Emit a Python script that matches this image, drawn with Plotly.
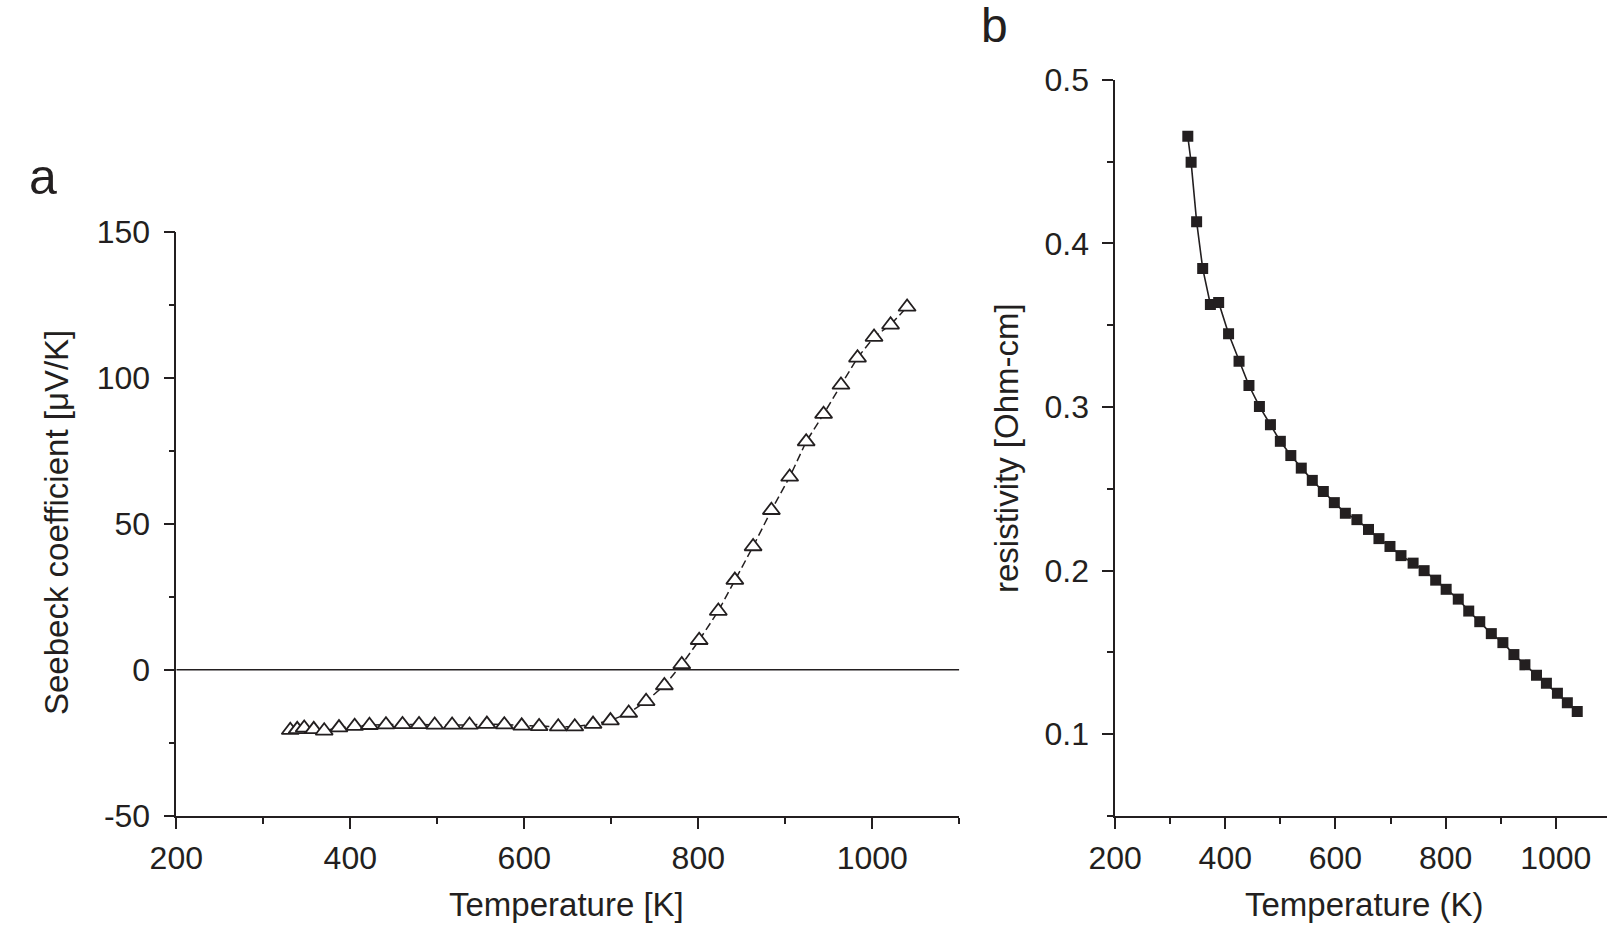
import plotly.graph_objects as go

# ---- Data ----
seebeck_T = [331, 339, 347, 358, 370, 387, 405, 422, 441, 460, 479, 497, 517, 537, 557,
             577, 597, 617, 639, 658, 679, 699, 720, 740, 761, 781, 801, 823, 842, 863,
             884, 905, 924, 944, 964, 983, 1002, 1021, 1040]
seebeck_S = [-20.7, -20.4, -19.9, -20.4, -20.9, -19.8, -19.3, -19.0, -18.8, -18.7, -18.7,
             -18.9, -18.9, -18.9, -18.6, -18.8, -19.2, -19.4, -19.5, -19.5, -18.6, -17.4,
             -14.8, -10.8, -5.4, 1.8, 10.1, 20.1, 30.7, 42.2, 54.6, 66.0, 78.1, 87.5,
             97.5, 106.8, 113.9, 118.1, 124.2]

res_T = [332, 338, 348, 359, 373, 388, 406, 425, 443, 462, 482, 500, 519, 538, 558, 578,
         598, 618, 639, 660, 679, 699, 719, 741, 761, 782, 801, 823, 842, 862, 883, 904,
         924, 944, 965, 983, 1003, 1021, 1039]
res_rho = [0.4655, 0.4496, 0.4133, 0.3847, 0.3627, 0.3639, 0.3448, 0.3279, 0.3131, 0.3003,
           0.2892, 0.2790, 0.2703, 0.2626, 0.2551, 0.2483, 0.2415, 0.2350, 0.2311, 0.2251,
           0.2195, 0.2147, 0.2091, 0.2045, 0.1999, 0.1941, 0.1885, 0.1825, 0.1752, 0.1687,
           0.1614, 0.1559, 0.1486, 0.1423, 0.1360, 0.1310, 0.1249, 0.1191, 0.1138]

x_ticks = [200, 400, 600, 800, 1000]
x_ticklabels = ["200", "400", "600", "800", "1000"]
s_ticks = [-50, 0, 50, 100, 150]
s_ticklabels = ["-50", "0", "50", "100", "150"]
r_ticks = [0.1, 0.2, 0.3, 0.4, 0.5]
r_ticklabels = ["0.1", "0.2", "0.3", "0.4", "0.5"]

INK = "#231f20"
FONT = "Liberation Sans, Arial, Helvetica, sans-serif"

W, H = 1607, 931

fig = go.Figure()

fig.add_trace(go.Scatter(
    x=seebeck_T, y=seebeck_S, mode="lines+markers",
    line=dict(color=INK, width=1.5, dash="8px,4px"),
    marker=dict(symbol="triangle-up", size=15, color="white",
                line=dict(color=INK, width=1.8)),
    xaxis="x", yaxis="y", showlegend=False))

fig.add_trace(go.Scatter(
    x=res_T, y=res_rho, mode="lines+markers",
    line=dict(color=INK, width=1.6),
    marker=dict(symbol="square", size=11, color=INK, line=dict(width=0)),
    xaxis="x2", yaxis="y2", showlegend=False))

axis_common = dict(showline=True, linecolor=INK, linewidth=1.5, showgrid=False,
                   zeroline=False, ticks="outside", ticklen=11, tickwidth=1.5,
                   tickcolor=INK, mirror=False, automargin=False)

def px_x(p):
    return p / W

def px_y(p):
    return (H - p) / H

minor_style = dict(ticks="outside", ticklen=6, tickwidth=1.5, tickcolor=INK)

fig.update_layout(
    width=W, height=H,
    margin=dict(l=0, r=0, t=0, b=0, autoexpand=False),
    paper_bgcolor="white", plot_bgcolor="white",
    xaxis=dict(**axis_common, domain=[px_x(176.3), px_x(959.3)], range=[200, 1100],
               tickvals=x_ticks, ticktext=x_ticklabels, anchor="y",
               tickfont=dict(family=FONT, size=32, color=INK), ticklabelstandoff=2,
               minor=dict(dtick=100, tick0=0, **minor_style)),
    yaxis=dict(**axis_common, domain=[px_y(815.8), px_y(231.6)], range=[-50, 150],
               tickvals=s_ticks, ticktext=s_ticklabels, anchor="x",
               tickfont=dict(family=FONT, size=32, color=INK), ticklabelstandoff=7,
               minor=dict(dtick=25, tick0=0, **minor_style)),
    xaxis2=dict(**axis_common, domain=[px_x(1115.1), 1.0], range=[200, 1093],
                tickvals=x_ticks, ticktext=x_ticklabels, anchor="y2",
                tickfont=dict(family=FONT, size=32, color=INK), ticklabelstandoff=2,
                minor=dict(dtick=100, tick0=0, **minor_style)),
    yaxis2=dict(**axis_common, domain=[px_y(815.8), px_y(79.9)], range=[0.05, 0.5],
                tickvals=r_ticks, ticktext=r_ticklabels, anchor="x2",
                tickfont=dict(family=FONT, size=32, color=INK), ticklabelstandoff=7,
                minor=dict(dtick=0.05, tick0=0, **minor_style)),
)

# zero line across panel a
fig.add_trace(go.Scatter(x=[200, 1100], y=[0, 0], mode="lines",
                         line=dict(color=INK, width=1.5), xaxis="x", yaxis="y",
                         showlegend=False, hoverinfo="skip"))

annotations = [
    dict(text="Seebeck coefficient [\u03bcV/K]", x=px_x(56), y=px_y(523), textangle=-90,
         font=dict(family=FONT, size=33, color=INK)),
    dict(text="Temperature [K]", x=px_x(566), y=px_y(904),
         font=dict(family=FONT, size=33, color=INK)),
    dict(text="resistivity [Ohm-cm]", x=px_x(1006), y=px_y(448), textangle=-90,
         font=dict(family=FONT, size=33, color=INK)),
    dict(text="Temperature (K)", x=px_x(1364), y=px_y(904),
         font=dict(family=FONT, size=33, color=INK)),
    dict(text="a", x=px_x(43), y=px_y(177), font=dict(family=FONT, size=50, color=INK)),
    dict(text="b", x=px_x(994), y=px_y(26), font=dict(family=FONT, size=48, color=INK)),
]
for a in annotations:
    a.update(xref="paper", yref="paper", showarrow=False, xanchor="center", yanchor="middle")
fig.update_layout(annotations=annotations)

fig.write_html("out.html")
